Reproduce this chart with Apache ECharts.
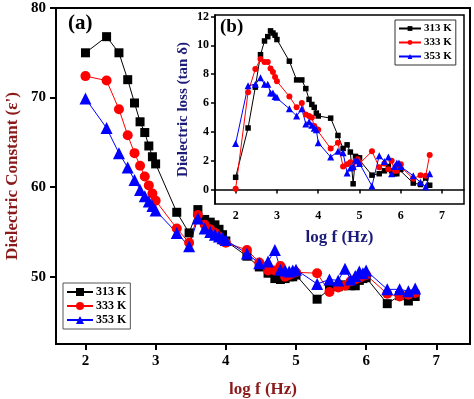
<!DOCTYPE html>
<html>
<head>
<meta charset="utf-8">
<script src="https://cdn.jsdelivr.net/npm/echarts@6/dist/echarts.min.js"></script>
<style>
  html, body { margin: 0; padding: 0; background: #fff; }
  #main { width: 474px; height: 399px; }
</style>
</head>
<body>
<div id="main"></div>
<script>
// log of frequency (Hz), shared by all curves
var logF = [2, 2.301, 2.477, 2.602, 2.699, 2.778, 2.845, 2.903, 2.954, 3,
  3.301, 3.477, 3.602, 3.699, 3.778, 3.845, 3.903, 3.954, 4,
  4.301, 4.477, 4.602, 4.699, 4.778, 4.845, 4.903, 4.954, 5,
  5.301, 5.477, 5.602, 5.699, 5.778, 5.845, 5.903, 5.954, 6,
  6.301, 6.477, 6.602, 6.699];

// dielectric constant (panel a)
var eps313 = [75.0, 76.8, 75.0, 72.0, 69.4, 67.3, 66.1, 64.6, 63.4, 62.6,
  57.2, 54.9, 57.5, 56.4, 56.1, 55.8, 55.3, 54.7, 54.0,
  52.3, 51.1, 50.4, 49.8, 49.7, 49.8, 50.0, 50.0, 50.2,
  47.5, 48.6, 48.9, 49.1, 49.0, 49.0, 49.6, 49.8, 49.9,
  47.0, 47.9, 47.3, 47.8];
var eps333 = [72.4, 71.9, 68.7, 65.8, 63.8, 62.4, 61.2, 60.2, 59.3, 58.5,
  55.4, 53.8, 56.9, 55.8, 55.3, 54.9, 54.5, 54.0, 53.8,
  53.0, 51.6, 50.7, 50.7, 51.2, 50.0, 50.2, 50.4, 50.5,
  50.4, 48.3, 48.8, 49.0, 49.5, 49.7, 49.9, 50.1, 50.2,
  48.1, 47.8, 48.0, 48.2];
var eps353 = [69.9, 66.6, 63.8, 62.2, 60.8, 59.7, 59.0, 58.4, 57.9, 57.4,
  54.9, 53.4, 56.5, 55.4, 55.0, 54.7, 54.5, 54.3, 54.1,
  52.6, 51.5, 51.7, 53.0, 50.8, 50.7, 50.6, 50.7, 50.8,
  49.2, 49.7, 49.6, 50.9, 49.7, 50.1, 50.6, 50.4, 50.7,
  48.6, 48.6, 48.4, 48.7];

// dielectric loss tan delta (panel b)
var tan313 = [0.85, 4.27, 7.1, 9.35, 10.3, 10.6, 11.0, 10.85, 10.7, 10.4,
  8.9, 7.6, 7.6, 7.0, 6.25, 5.9, 5.7, 5.3, 5.1,
  4.95, 3.75, 2.85, 3.1, 2.6, 0.4, 2.3, 2.2, 2.2,
  1.0, 1.1, 1.3, 1.6, 1.3, 1.1, 1.1, 1.4, 1.4,
  0.45, 0.35, 0.8, 0.3];
var tan333 = [0.05, 6.75, 8.35, 9.05, 8.85, 8.85, 8.4, 8.15, 7.8, 7.5,
  6.45, 5.7, 6.0, 5.2, 5.1, 5.0, 4.4, 4.2, 4.15,
  2.85, 3.25, 1.6, 1.75, 1.9, 1.5, 2.0, 2.1, 1.8,
  2.65, 1.55, 1.8, 1.4, 2.0, 1.3, 1.3, 1.7, 1.75,
  0.75, 1.0, 0.95, 2.4];
var tan353 = [3.2, 7.2, 7.3, 7.75, 7.3, 7.3, 6.7, 6.7, 6.45, 6.4,
  5.6, 5.1, 5.6, 4.55, 4.7, 4.45, 4.25, 4.15, 3.25,
  2.25, 2.65, 2.55, 1.15, 1.5, 1.6, 2.05, 2.0, 1.8,
  0.25, 2.35, 1.95, 2.25, 1.1, 1.6, 1.85, 1.85, 1.6,
  0.95, 0.5, 0.2, 1.1];

var tempNames = ["313 K", "333 K", "353 K"];
var xTicks = [2, 3, 4, 5, 6, 7];
var epsTicks = [50, 60, 70, 80];
var tanTicks = [0, 2, 4, 6, 8, 10, 12];

function pairs(ys) {
  return logF.map(function (x, i) { return [x, ys[i]]; });
}

var serif = "Liberation Serif";
var colors = ["#000000", "#ff0000", "#0000ff"];
var symbols = ["rect", "circle", "triangle"];
var bigSize = [9, 10, 12];
var smallSize = [5.5, 6, 7];
var epsData = [eps313, eps333, eps353];
var tanData = [tan313, tan333, tan353];

var series = [];
tempNames.forEach(function (n, i) {
  series.push({
    name: n,
    type: "line",
    xAxisIndex: 0,
    yAxisIndex: 0,
    data: pairs(epsData[i]),
    symbol: symbols[i],
    symbolSize: bigSize[i],
    showAllSymbol: true,
    color: colors[i],
    lineStyle: { width: 1, color: colors[i] },
    itemStyle: { color: colors[i] },
    animation: false
  });
});
tempNames.forEach(function (n, i) {
  series.push({
    name: n + " ",
    type: "line",
    xAxisIndex: 1,
    yAxisIndex: 1,
    data: pairs(tanData[i]),
    symbol: symbols[i],
    symbolSize: smallSize[i],
    showAllSymbol: true,
    color: colors[i],
    lineStyle: { width: 1, color: colors[i] },
    itemStyle: { color: colors[i] },
    animation: false
  });
});

var myChart = echarts.init(document.getElementById("main"));
var option = {
  backgroundColor: "#fff",
  animation: false,
  grid: [
    { left: 56, top: 8, right: 4, bottom: 55, show: true, borderColor: "#000", borderWidth: 2, backgroundColor: "#fff", outerBoundsMode: "none", containLabel: false },
    { left: 215, top: 15, width: 249, height: 189, show: true, borderColor: "#000", borderWidth: 1.5, backgroundColor: "#fff", outerBoundsMode: "none", containLabel: false }
  ],
  xAxis: [
    {
      gridIndex: 0, type: "value", min: 1.58, max: 7.48,
      name: "log f (Hz)", nameLocation: "middle", nameGap: 37, nameMoveOverlap: false,
      nameTextStyle: { fontFamily: serif, fontWeight: "bold", fontSize: 17, color: "#8b1a1a" },
      axisLine: { lineStyle: { color: "#000", width: 2 } },
      axisTick: { show: true, inside: false, length: 6, lineStyle: { width: 2, color: "#000" }, customValues: xTicks },
      axisLabel: { customValues: xTicks, fontFamily: serif, fontWeight: "bold", fontSize: 15, color: "#000", margin: 10 },
      splitLine: { show: false }
    },
    {
      gridIndex: 1, type: "value", min: 1.5, max: 7.53,
      name: "log f (Hz)", nameLocation: "middle", nameGap: 25, nameMoveOverlap: false,
      nameTextStyle: { fontFamily: serif, fontWeight: "bold", fontSize: 17, color: "#1c1c78" },
      axisLine: { lineStyle: { color: "#000", width: 1.5 } },
      axisTick: { show: true, inside: false, length: 4, lineStyle: { width: 1.5, color: "#000" }, customValues: xTicks },
      axisLabel: { customValues: xTicks, fontFamily: serif, fontWeight: "bold", fontSize: 12, color: "#000", margin: 6 },
      splitLine: { show: false }
    }
  ],
  yAxis: [
    {
      gridIndex: 0, type: "value", min: 42.5, max: 80,
      name: "Dielectric Constant (\u03b5')", nameLocation: "middle", nameGap: 35, nameRotate: 90, nameMoveOverlap: false,
      nameTextStyle: { fontFamily: serif, fontWeight: "bold", fontSize: 17, color: "#8b1a1a" },
      axisLine: { show: true, lineStyle: { color: "#000", width: 2 } },
      axisTick: { show: true, inside: false, length: 6, lineStyle: { width: 2, color: "#000" }, customValues: epsTicks },
      axisLabel: { customValues: epsTicks, fontFamily: serif, fontWeight: "bold", fontSize: 15, color: "#000", margin: 10 },
      splitLine: { show: false }
    },
    {
      gridIndex: 1, type: "value", min: -1, max: 12.1,
      name: "Dielectric loss (tan \u03b4)", nameLocation: "middle", nameGap: 24, nameRotate: 90, nameMoveOverlap: false,
      nameTextStyle: { fontFamily: serif, fontWeight: "bold", fontSize: 15, color: "#1c1c78" },
      axisLine: { show: true, lineStyle: { color: "#000", width: 1.5 } },
      axisTick: { show: true, inside: false, length: 4, lineStyle: { width: 1.5, color: "#000" }, customValues: tanTicks },
      axisLabel: { customValues: tanTicks, fontFamily: serif, fontWeight: "bold", fontSize: 12, color: "#000", margin: 6 },
      splitLine: { show: false }
    }
  ],
  legend: [
    {
      orient: "vertical", left: 63, top: 283, padding: [3, 4, 3, 3],
      itemWidth: 26, itemHeight: 10, itemGap: 2,
      borderColor: "#555", borderWidth: 1, backgroundColor: "#fff",
      data: tempNames,
      textStyle: { fontFamily: serif, fontWeight: "bold", fontSize: 12, color: "#000", padding: [0, 0, 0, -2] },
      selectedMode: false
    },
    {
      orient: "vertical", left: 395, top: 20, padding: [3, 4, 3, 3],
      itemWidth: 22, itemHeight: 6, itemGap: 3,
      borderColor: "#333", borderWidth: 1, backgroundColor: "#fff",
      data: tempNames.map(function (n) { return n + " "; }),
      formatter: function (name) { return name.trim(); },
      textStyle: { fontFamily: serif, fontWeight: "bold", fontSize: 11, color: "#000", padding: [0, 0, 0, -2] },
      selectedMode: false
    }
  ],
  graphic: [
    { type: "text", left: 68, top: 13, style: { text: "(a)", font: "bold 21px 'Liberation Serif'", fill: "#000" } },
    { type: "text", left: 220, top: 18, style: { text: "(b)", font: "bold 19px 'Liberation Serif'", fill: "#000" } }
  ],
  series: series
};
myChart.setOption(option);
</script>
</body>
</html>
